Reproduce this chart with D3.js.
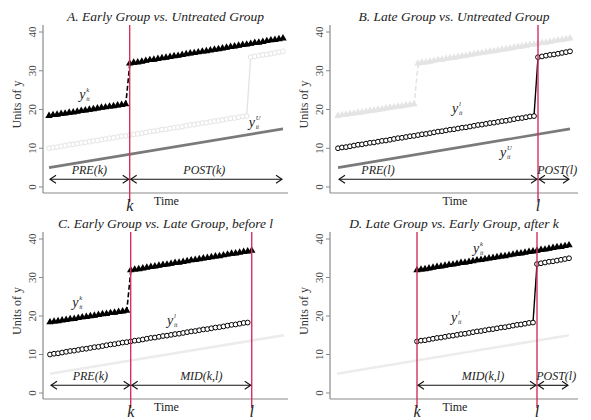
<!DOCTYPE html>
<html>
<head>
<meta charset="utf-8">
<script src="https://cdn.jsdelivr.net/npm/d3@7"></script>
<style>
  body { margin: 0; background: #fff; }
</style>
</head>
<body>
<svg id="chart" width="591" height="420"></svg>
<script>
// Périodes : t = 0 .. 58, traitement précoce en k, tardif en l
const lastTime = 58;
const kTime = 20;
const lTime = 50;

// Groupe précoce y^k (t = 0..58)
const earlyGroup = [
  18.0, 18.2, 18.3, 18.5, 18.6, 18.8, 18.9, 19.1, 19.3, 19.4,
  19.6, 19.7, 19.9, 20.1, 20.2, 20.4, 20.5, 20.7, 20.8, 21.0,
  31.5, 31.7, 31.8, 32.0, 32.2, 32.4, 32.5, 32.7, 32.9, 33.0,
  33.2, 33.4, 33.5, 33.7, 33.9, 34.1, 34.2, 34.4, 34.6, 34.7,
  34.9, 35.1, 35.2, 35.4, 35.6, 35.8, 35.9, 36.1, 36.3, 36.4,
  36.6, 36.8, 36.9, 37.1, 37.3, 37.5, 37.6, 37.8, 38.0
];

// Groupe tardif y^l (t = 0..58)
const lateGroup = [
  10.0, 10.2, 10.3, 10.5, 10.7, 10.9, 11.0, 11.2, 11.4, 11.5,
  11.7, 11.9, 12.0, 12.2, 12.4, 12.6, 12.7, 12.9, 13.1, 13.2,
  13.4, 13.6, 13.7, 13.9, 14.1, 14.3, 14.4, 14.6, 14.8, 14.9,
  15.1, 15.3, 15.4, 15.6, 15.8, 16.0, 16.1, 16.3, 16.5, 16.6,
  16.8, 17.0, 17.1, 17.3, 17.5, 17.7, 17.8, 18.0, 18.2, 18.3,
  33.5, 33.7, 33.9, 34.1, 34.2, 34.4, 34.6, 34.8, 35.0
];

// Groupe non traité y^U (droite)
const untreatedTimes = [0, 58];
const untreatedGroup = [5, 15];

const yTicks = [0, 10, 20, 30, 40];

const panelTitles = [
  "A. Early Group vs. Untreated Group",
  "B. Late Group vs. Untreated Group",
  "C. Early Group vs. Late Group, before l",
  "D. Late Group vs. Early Group, after k"
];

const RED = "#d3325f";
const FADE = "#e4e4e4";
const SERIF = "Liberation Serif";

// Mise en page des quatre panneaux
const panels = [
  { left: 43, x: [49, 283], y: [187, 32], axisEnd: 288, title: panelTitles[0],
    early: { style: "on", from: 0, to: lastTime },
    late: { style: "fade", from: 0, to: lastTime },
    untreated: "on",
    vlines: [["k", kTime]],
    arrows: [[0, kTime, "PRE(k)", 10], [kTime, lastTime, "POST(k)", 38.5]],
    labels: [["k", 7.5, 22.6], ["U", 49.5, 15.5]] },
  { left: 330, x: [338, 570], y: [187, 32], axisEnd: 578, title: panelTitles[1],
    early: { style: "fade", from: 0, to: lastTime },
    late: { style: "on", from: 0, to: lastTime },
    untreated: "on",
    vlines: [["l", lTime]],
    arrows: [[0, lTime, "PRE(l)", 10], [lTime, lastTime, "POST(l)", 54.8]],
    labels: [["l", 28.5, 19], ["U", 40.5, 7.7]] },
  { left: 43, x: [50, 284], y: [393, 239], axisEnd: 288, title: panelTitles[2],
    early: { style: "on", from: 0, to: lTime },
    late: { style: "on", from: 0, to: lTime - 1 },
    untreated: "fade",
    vlines: [["k", kTime], ["l", lTime]],
    arrows: [[0, kTime, "PRE(k)", 10], [kTime, lTime, "MID(k,l)", 37.5]],
    labels: [["k", 5.5, 22.4], ["l", 29, 17.6]] },
  { left: 330, x: [337, 569], y: [393, 239], axisEnd: 578, title: panelTitles[3],
    early: { style: "on", from: kTime, to: lastTime },
    late: { style: "on", from: kTime, to: lastTime },
    untreated: "fade",
    vlines: [["k", kTime], ["l", lTime]],
    arrows: [[kTime, lTime, "MID(k,l)", 36.5], [lTime, lastTime, "POST(l)", 54.8]],
    labels: [["k", 34, 36.4], ["l", 28.5, 18.4]] }
];

const svg = d3.select("#chart");

panels.forEach(function (p, i) {
  const g = svg.append("g");
  const x = d3.scaleLinear().domain([0, lastTime]).range(p.x);
  const y = d3.scaleLinear().domain([0, 40]).range(p.y);
  const axisY = y(0) + 6;
  const top = y(40) - 7;
  const midX = (p.left + p.axisEnd) / 2;

  // Titre
  g.append("text")
    .attr("x", midX).attr("y", y(40) - 11)
    .attr("text-anchor", "middle")
    .attr("font-size", 13.5).attr("font-style", "italic").attr("fill", "#222")
    .text(p.title);

  // Axe des y (ticks verticaux, style Stata)
  g.append("line")
    .attr("x1", p.left).attr("x2", p.left).attr("y1", top).attr("y2", axisY)
    .attr("stroke", "#8a8a8a").attr("stroke-width", 1.2);
  g.append("line")
    .attr("x1", p.left).attr("x2", p.axisEnd).attr("y1", axisY).attr("y2", axisY)
    .attr("stroke", "#8a8a8a").attr("stroke-width", 1.2);
  yTicks.forEach(function (v) {
    g.append("line")
      .attr("x1", p.left - 4).attr("x2", p.left).attr("y1", y(v)).attr("y2", y(v))
      .attr("stroke", "#8a8a8a");
    g.append("text")
      .attr("transform", "translate(" + (p.left - 7) + "," + y(v) + ") rotate(-90)")
      .attr("text-anchor", "middle")
      .attr("font-size", 11).attr("fill", "#444")
      .text(v);
  });
  g.append("text")
    .attr("transform", "translate(" + (p.left - 22) + "," + (y(20) - 5) + ") rotate(-90)")
    .attr("text-anchor", "middle")
    .attr("font-size", 12).attr("fill", "#333")
    .text("Units of y");

  // Titre de l'axe des x
  g.append("text")
    .attr("x", midX + 1).attr("y", axisY + 12)
    .attr("text-anchor", "middle")
    .attr("font-size", 12).attr("fill", "#222")
    .text("Time");

  // Groupe non traité
  const untreatedPts = untreatedTimes.map((t, j) => [t, untreatedGroup[j]]);
  g.append("path")
    .datum(untreatedPts)
    .attr("d", d3.line().x(d => x(d[0])).y(d => y(d[1])))
    .attr("fill", "none")
    .attr("stroke", p.untreated === "on" ? "#7a7a7a" : "#ececec")
    .attr("stroke-width", 2.6);

  // Dessine une série avec saut entre deux périodes
  function drawSeries(values, jumpAt, spec, kind) {
    const color = spec.style === "on" ? "#000" : FADE;
    const pts = values.map((v, t) => [t, v]).filter(d => d[0] >= spec.from && d[0] <= spec.to);
    const pre = pts.filter(d => d[0] < jumpAt);
    const post = pts.filter(d => d[0] >= jumpAt);
    const line = d3.line().x(d => x(d[0])).y(d => y(d[1]));
    [pre, post].forEach(function (seg) {
      if (seg.length > 1) {
        g.append("path").datum(seg).attr("d", line)
          .attr("fill", "none").attr("stroke", color).attr("stroke-width", 1.2);
      }
    });
    if (pre.length && post.length) {
      g.append("path").datum([pre[pre.length - 1], post[0]]).attr("d", line)
        .attr("fill", "none").attr("stroke", color)
        .attr("stroke-width", kind === "tri" ? 1.6 : 1.4)
        .attr("stroke-dasharray", kind === "tri" ? "5,2.5" : null);
    }
    if (kind === "tri") {
      g.selectAll(null).data(pts).enter().append("path")
        .attr("d", d3.symbol().type(d3.symbolTriangle).size(24))
        .attr("transform", d => "translate(" + x(d[0]) + "," + (y(d[1]) - 1.5) + ")")
        .attr("fill", color);
    } else {
      g.selectAll(null).data(pts).enter().append("circle")
        .attr("cx", d => x(d[0])).attr("cy", d => y(d[1])).attr("r", 2.4)
        .attr("fill", "#fff").attr("stroke", color).attr("stroke-width", 1);
    }
  }

  // Ordre : série estompée d'abord
  if (p.early.style === "fade") {
    drawSeries(earlyGroup, kTime, p.early, "tri");
    drawSeries(lateGroup, lTime, p.late, "circ");
  } else {
    drawSeries(lateGroup, lTime, p.late, "circ");
    drawSeries(earlyGroup, kTime, p.early, "tri");
  }

  // Lignes verticales rouges k et l
  p.vlines.forEach(function (vl) {
    g.append("line")
      .attr("x1", x(vl[1])).attr("x2", x(vl[1]))
      .attr("y1", top).attr("y2", axisY + 9)
      .attr("stroke", RED).attr("stroke-width", 1.4);
    g.append("text")
      .attr("x", x(vl[1])).attr("y", axisY + 18)
      .attr("text-anchor", "middle")
      .attr("font-size", 16).attr("font-style", "italic").attr("fill", "#222")
      .text(vl[0]);
  });

  // Flèches doubles PRE / MID / POST
  p.arrows.forEach(function (a) {
    const x0 = x(a[0]) + 1, x1 = x(a[1]) - 1, ya = y(2);
    g.append("line")
      .attr("x1", x0).attr("x2", x1).attr("y1", ya).attr("y2", ya)
      .attr("stroke", "#111").attr("stroke-width", 1.1);
    g.append("path")
      .attr("d", "M" + (x0 + 6) + "," + (ya - 4) + "L" + x0 + "," + ya + "L" + (x0 + 6) + "," + (ya + 4)
        + "M" + (x1 - 6) + "," + (ya - 4) + "L" + x1 + "," + ya + "L" + (x1 - 6) + "," + (ya + 4))
      .attr("fill", "none").attr("stroke", "#111").attr("stroke-width", 1.1);
    g.append("text")
      .attr("x", x(a[3])).attr("y", ya - 5)
      .attr("text-anchor", "middle")
      .attr("font-size", 12).attr("font-style", "italic").attr("fill", "#222")
      .text(a[2]);
  });

  // Étiquettes y^k_it, y^l_it, y^U_it
  p.labels.forEach(function (lb) {
    const lx = x(lb[1]), ly = y(lb[2]);
    g.append("text").attr("x", lx).attr("y", ly)
      .attr("font-size", 14).attr("font-style", "italic").attr("fill", "#222")
      .text("y");
    g.append("text").attr("x", lx + 7).attr("y", ly - 7)
      .attr("font-size", 6.5).attr("font-style", "italic").attr("fill", "#222")
      .text(lb[0]);
    g.append("text").attr("x", lx + 7).attr("y", ly + 2)
      .attr("font-size", 6).attr("font-style", "italic").attr("fill", "#222")
      .text("it");
  });
});

// Police serif sur chaque texte
svg.selectAll("text").attr("font-family", SERIF);
</script>
</body>
</html>
